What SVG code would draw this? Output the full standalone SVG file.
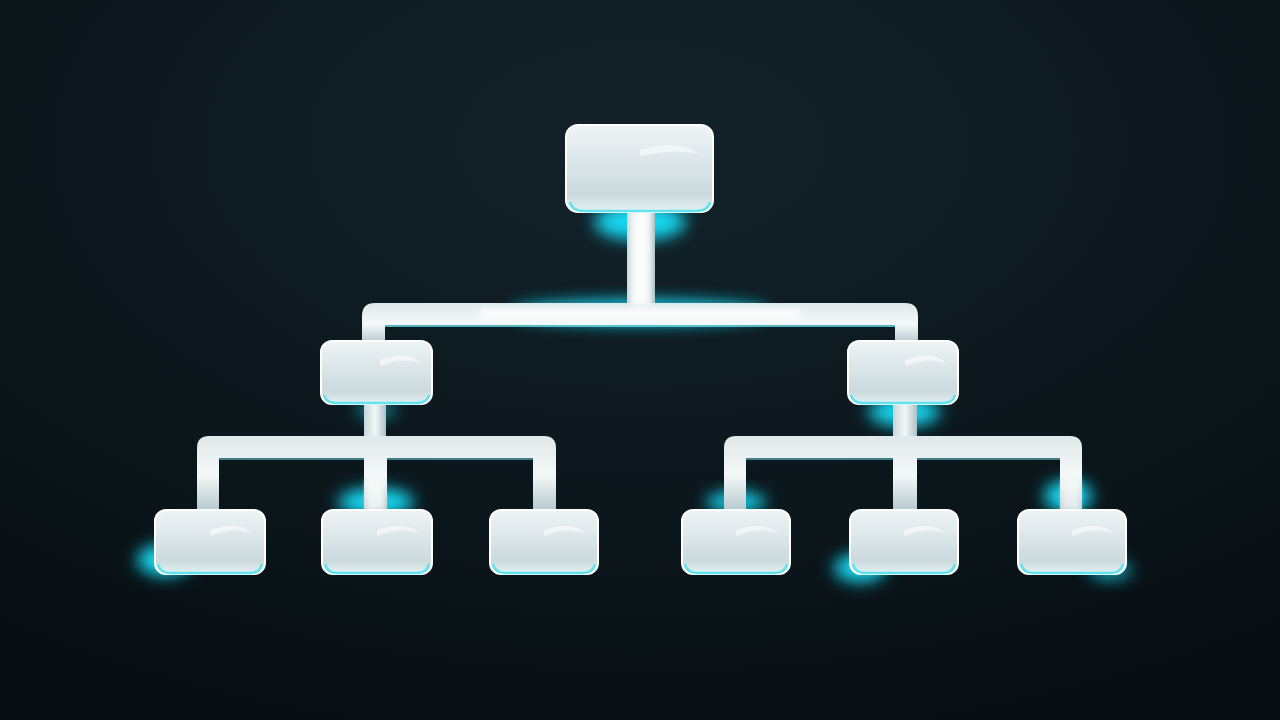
<svg xmlns="http://www.w3.org/2000/svg" width="1280" height="720" viewBox="0 0 1280 720">
<defs>
<radialGradient id="bg" cx="0.5" cy="0.2" r="0.9">
<stop offset="0" stop-color="#13222a"/>
<stop offset="0.6" stop-color="#0b161b"/>
<stop offset="1" stop-color="#060c10"/>
</radialGradient>
<linearGradient id="nodeFill" x1="0" y1="0" x2="0" y2="1">
<stop offset="0" stop-color="#eef4f5"/>
<stop offset="0.55" stop-color="#d6e2e5"/>
<stop offset="0.8" stop-color="#cbdadd"/>
<stop offset="1" stop-color="#e6f2f4"/>
</linearGradient>
<linearGradient id="barH" x1="0" y1="0" x2="0" y2="1">
<stop offset="0" stop-color="#dfe8ea"/>
<stop offset="0.5" stop-color="#f4f8f9"/>
<stop offset="1" stop-color="#aec4ca"/>
</linearGradient>
<linearGradient id="barV" x1="0" y1="0" x2="1" y2="0">
<stop offset="0" stop-color="#c6d5d9"/>
<stop offset="0.5" stop-color="#f2f7f8"/>
<stop offset="1" stop-color="#abc0c5"/>
</linearGradient>
<filter id="glow" x="-60%" y="-60%" width="220%" height="220%">
<feGaussianBlur stdDeviation="8"/>
</filter>
<filter id="soft" x="-20%" y="-20%" width="140%" height="140%">
<feGaussianBlur stdDeviation="2.5"/>
</filter>
<style>
.node{fill:url(#nodeFill);stroke:#ffffff;stroke-width:2}
.rim{fill:none;stroke:#5fe3f0;stroke-width:2.5}
.shine{fill:#ffffff;opacity:0.55}
.h{fill:url(#barH)}
.v{fill:url(#barV)}
.g{fill:#12d8f2;filter:url(#glow)}
.gc{fill:#b8f6ff;filter:url(#glow)}
</style>
</defs>
<rect width="1280" height="720" fill="url(#bg)"/>

<g id="glows">
<ellipse class="g" cx="640" cy="222" rx="46" ry="18"/>
<ellipse class="g" cx="640" cy="312" rx="130" ry="12"/>
<ellipse class="g" cx="904" cy="412" rx="36" ry="14"/>
<ellipse class="g" cx="376" cy="502" rx="38" ry="14"/>
<ellipse class="g" cx="736" cy="502" rx="30" ry="10"/>
<ellipse class="g" cx="1068" cy="496" rx="24" ry="16"/>
<ellipse class="g" cx="165" cy="560" rx="28" ry="16"/>
<ellipse class="g" cx="860" cy="568" rx="26" ry="14"/>
<ellipse class="g" cx="1110" cy="570" rx="22" ry="10" opacity="0.7"/>
<ellipse class="g" cx="376" cy="410" rx="20" ry="8" opacity="0.6"/>
</g>

<g id="connectors">
<rect class="v" x="627" y="205" width="28" height="100"/>
<path class="h" d="M362,316 Q362,303 375,303 L905,303 Q918,303 918,316 L918,345 L895,345 L895,325 L385,325 L385,345 L362,345 Z"/>
<path d="M385,326 L895,326" stroke="#6fe6f2" stroke-width="1.5"/>
<rect class="v" x="364" y="400" width="22" height="40"/>
<rect class="v" x="893" y="400" width="24" height="40"/>
<path class="h" d="M197,448 Q197,436 209,436 L544,436 Q556,436 556,448 L556,514 L533,514 L533,458 L387,458 L387,514 L364,514 L364,458 L219,458 L219,514 L197,514 Z"/>
<path d="M219,459 L364,459 M387,459 L533,459" stroke="#6fe6f2" stroke-width="1.2"/>
<path class="h" d="M724,448 Q724,436 736,436 L1070,436 Q1082,436 1082,448 L1082,514 L1060,514 L1060,458 L917,458 L917,514 L893,514 L893,458 L746,458 L746,514 L724,514 Z"/>
<path d="M746,459 L893,459 M917,459 L1060,459" stroke="#6fe6f2" stroke-width="1.2"/>
<rect x="631" y="210" width="20" height="95" fill="#ffffff" opacity="0.8" filter="url(#soft)"/>
<rect x="480" y="308" width="320" height="12" fill="#ffffff" opacity="0.7" filter="url(#soft)"/>
<rect x="366" y="480" width="18" height="30" fill="#ffffff" opacity="0.7" filter="url(#soft)"/>
<rect x="1062" y="480" width="18" height="30" fill="#ffffff" opacity="0.6" filter="url(#soft)"/>
</g>

<g id="node-root">
<rect class="node" x="566" y="125" width="147" height="87" rx="12"/>
<path class="rim" d="M570,202 Q572,211 584,211 L696,211 Q708,211 710,202"/>
<path class="shine" d="M640,150 Q680,138 700,155 Q680,148 640,156 Z"/>
</g>
<g id="node-l">
<rect class="node" x="321" y="341" width="111" height="63" rx="11"/>
<path class="rim" d="M324,395 Q326,403 336,403 L417,403 Q427,403 429,395"/>
<path class="shine" d="M380,360 Q410,350 422,364 Q405,356 380,366 Z"/>
</g>
<g id="node-r">
<rect class="node" x="848" y="341" width="110" height="63" rx="11"/>
<path class="rim" d="M851,395 Q853,403 863,403 L943,403 Q953,403 955,395"/>
<path class="shine" d="M905,360 Q935,350 947,364 Q930,356 905,366 Z"/>
</g>
<g id="node-ll">
<rect class="node" x="155" y="510" width="110" height="64" rx="11"/>
<path class="rim" d="M158,564 Q160,573 170,573 L250,573 Q260,573 262,564"/>
<path class="shine" d="M210,530 Q240,520 252,534 Q235,526 210,536 Z"/>
</g>
<g id="node-lm">
<rect class="node" x="322" y="510" width="110" height="64" rx="11"/>
<path class="rim" d="M325,564 Q327,573 337,573 L417,573 Q427,573 429,564"/>
<path class="shine" d="M377,530 Q407,520 419,534 Q402,526 377,536 Z"/>
</g>
<g id="node-lr">
<rect class="node" x="490" y="510" width="108" height="64" rx="11"/>
<path class="rim" d="M493,564 Q495,573 505,573 L583,573 Q593,573 595,564"/>
<path class="shine" d="M544,530 Q574,520 586,534 Q569,526 544,536 Z"/>
</g>
<g id="node-rl">
<rect class="node" x="682" y="510" width="108" height="64" rx="11"/>
<path class="rim" d="M685,564 Q687,573 697,573 L775,573 Q785,573 787,564"/>
<path class="shine" d="M736,530 Q766,520 778,534 Q761,526 736,536 Z"/>
</g>
<g id="node-rm">
<rect class="node" x="850" y="510" width="108" height="64" rx="11"/>
<path class="rim" d="M853,564 Q855,573 865,573 L943,573 Q953,573 955,564"/>
<path class="shine" d="M904,530 Q934,520 946,534 Q929,526 904,536 Z"/>
</g>
<g id="node-rr">
<rect class="node" x="1018" y="510" width="108" height="64" rx="11"/>
<path class="rim" d="M1021,564 Q1023,573 1033,573 L1111,573 Q1121,573 1123,564"/>
<path class="shine" d="M1072,530 Q1102,520 1114,534 Q1097,526 1072,536 Z"/>
</g>
</svg>
